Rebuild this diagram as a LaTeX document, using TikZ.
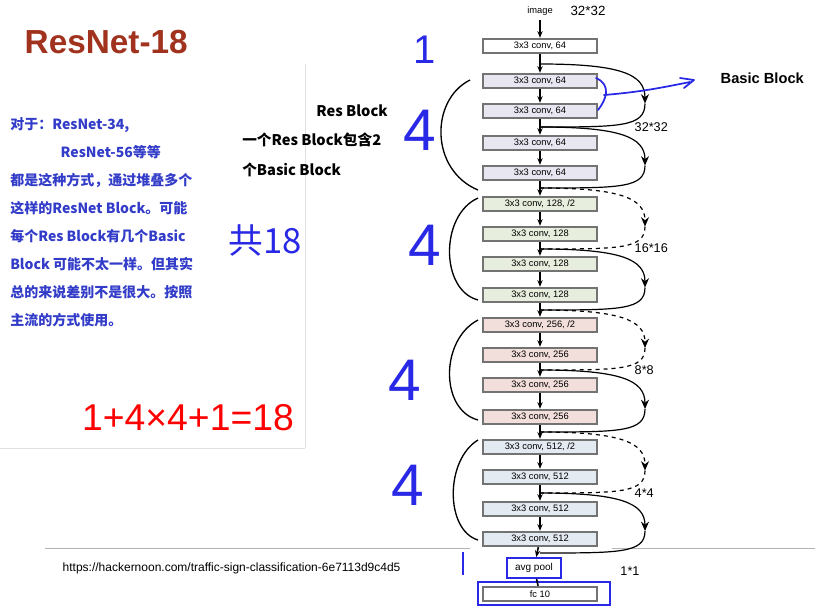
\documentclass[tikz,border=0pt]{standalone}
\usepackage{fontspec}
\setmainfont{Liberation Sans}
\newfontfamily\cjk{Noto Sans CJK SC}
\usetikzlibrary{arrows.meta}
\definecolor{txtblue}{RGB}{50,60,200}
\definecolor{penblue}{RGB}{40,40,230}
\definecolor{titlered}{RGB}{160,50,30}
\definecolor{cgray}{RGB}{232,230,240}
\definecolor{cgreen}{RGB}{232,238,222}
\definecolor{cpink}{RGB}{242,222,218}
\definecolor{cblue}{RGB}{228,234,242}
\begin{document}
\begin{tikzpicture}[x=0.75pt,y=-0.75pt,
  layer/.style={draw=gray!90!black,line width=1.3pt,minimum width=86pt,minimum height=11pt,inner sep=0pt,font=\fontsize{7}{8}\selectfont},
  flow/.style={-{Stealth[length=5pt,width=4pt]},line width=1.2pt},
  skip/.style={-{Stealth[length=7pt,width=6pt]},line width=0.9pt},
  plain/.style={line width=0.9pt},
  lab/.style={font=\fontsize{9.5}{10}\selectfont},
  hand/.style={penblue,line width=1.3pt,line cap=round,line join=round}]
\useasboundingbox (0,0) rectangle (815,611);
\fill[white] (0,0) rectangle (815,611);
\draw[gray!25] (305,64)--(305,448) (0,448)--(305,448);
\draw[gray!60] (45,548)--(470,548) (612,548)--(815,548);
\node[font=\bfseries\fontsize{25}{28}\selectfont,text=titlered,anchor=west] (title) at (20,42) {ResNet-18};
\node[anchor=north west,text=txtblue,font=\cjk\bfseries\fontsize{10.5}{21}\selectfont,align=left,inner sep=0pt] (left) at (10,117)
 {对于：ResNet-34,\\\hspace*{3.6em}ResNet-56等等\\都是这种方式，通过堆叠多个\\这样的ResNet Block。可能\\每个Res Block有几个Basic\\Block 可能不太一样。但其实\\总的来说差别不是很大。按照\\主流的方式使用。};
\node[font=\cjk\bfseries\fontsize{11}{15}\selectfont] (rb) at (352,111) {Res Block};
\node[font=\cjk\bfseries\fontsize{11}{22}\selectfont,align=left,anchor=north west,inner sep=0pt] (rb2) at (242,133) {一个Res Block包含2\\个Basic Block};
\node[font=\bfseries\fontsize{11}{13}\selectfont,anchor=west] (bb) at (716,78) {Basic Block};
\node[font=\fontsize{7}{8}\selectfont] (img) at (540,11) {image};
\node[font=\fontsize{10}{11}\selectfont] at (588,11) {32*32};
\foreach \n/\y/\t/\c in {c1/46/{3x3 conv, 64}/white, a1/81/{3x3 conv, 64}/cgray, a2/111/{3x3 conv, 64}/cgray, a3/143/{3x3 conv, 64}/cgray, a4/173/{3x3 conv, 64}/cgray,
 b1/204/{3x3 conv, 128, /2}/cgreen, b2/234/{3x3 conv, 128}/cgreen, b3/264/{3x3 conv, 128}/cgreen, b4/295/{3x3 conv, 128}/cgreen,
 d1/325/{3x3 conv, 256, /2}/cpink, d2/355/{3x3 conv, 256}/cpink, d3/385/{3x3 conv, 256}/cpink, d4/417/{3x3 conv, 256}/cpink,
 e1/447/{3x3 conv, 512, /2}/cblue, e2/477/{3x3 conv, 512}/cblue, e3/509/{3x3 conv, 512}/cblue, e4/539/{3x3 conv, 512}/cblue}
 {\node[layer,fill=\c] (\n) at (540,\y) {\t};}
\node[font=\fontsize{7.5}{8}\selectfont,draw=penblue,line width=1.5pt,minimum width=40pt,minimum height=15pt,inner sep=0pt] (avg) at (534,568) {avg pool};
\node[layer,fill=white] (fc) at (540,594) {fc 10};
\draw[penblue,line width=1.5pt] (478,582) rectangle (610,605);
\draw[flow] (img) -- (c1);
\foreach \p/\q in {c1/a1,a1/a2,a2/a3,a3/a4,a4/b1,b1/b2,b2/b3,b3/b4,b4/d1,d1/d2,d2/d3,d3/d4,d4/e1,e1/e2,e2/e3,e3/e4,e4/avg}
 \draw[flow] (\p) -- (\q);
\draw[line width=1.2pt] (avg) -- (fc);
\foreach \ya/\yb/\st in {64/127/solid,127/188/solid,188/249/dashed,249/310/solid,310/370/dashed,370/432/solid,432/493/dashed,493/553/solid}{
 \coordinate (s) at (540,\ya); \coordinate (t) at (540,\yb);
 \coordinate (m) at (645,{(\ya+\yb)/2+8});
 \draw[skip,\st] (s) .. controls (620,\ya) and (645,\ya+10) .. (m);
 \draw[plain,\st] (m) .. controls (645,\yb) and (620,\yb) .. (t);
}
\foreach \y/\t in {127/32*32,248/16*16,370/8*8,493/4*4}
 \node[lab,anchor=west] at (630,\y) {\t};
\node[lab] at (630,571) {1*1};
\node[font=\fontsize{9}{10}\selectfont,anchor=west] (url) at (58,568) {https://hackernoon.com/traffic-sign-classification-6e7113d9c4d5};
\draw[hand] (596,78) .. controls (612,85) and (606,100) .. (598,110) (604,95) .. controls (640,92) and (660,88) .. (690,82) (680,78)--(694,80)--(684,88);
\draw[black,line width=1pt] (470,80) .. controls (430,100) and (430,170) .. (478,190);
\draw[black,line width=1pt] (478,198) .. controls (440,215) and (440,290) .. (478,300);
\draw[black,line width=1pt] (478,320) .. controls (440,340) and (440,410) .. (478,420);
\draw[black,line width=1pt] (478,440) .. controls (445,460) and (445,530) .. (478,540);
\draw[penblue,line width=2pt] (463,552)--(463,575);
\node[penblue,font=\fontsize{30}{30}\selectfont] at (425,50) {1};
\node[penblue,font=\fontsize{44}{44}\selectfont] at (420,130) {4};
\node[penblue,font=\fontsize{44}{44}\selectfont] at (425,245) {4};
\node[penblue,font=\fontsize{44}{44}\selectfont] at (405,380) {4};
\node[penblue,font=\fontsize{44}{44}\selectfont] at (408,485) {4};
\node[penblue,font=\cjk\fontsize{26}{26}\selectfont] at (265,240) {共18};
\node[red,font=\fontsize{28}{28}\selectfont] at (188,418) {1+4×4+1=18};
\end{tikzpicture}
\end{document}
